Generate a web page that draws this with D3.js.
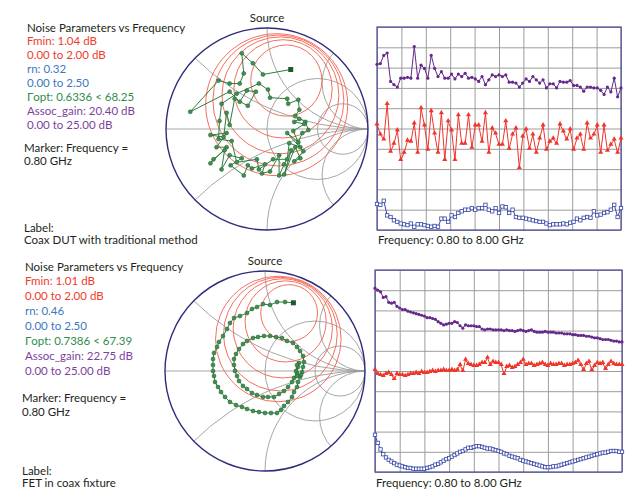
<!DOCTYPE html>
<html>
<head>
<meta charset="utf-8">
<script src="https://cdn.jsdelivr.net/npm/d3@7"></script>
<style>
  body { margin: 0; background: #fff; }
  svg { display: block; font-family: 'Lato', 'Open Sans', sans-serif; }
</style>
</head>
<body>
<div id="chart"></div>
<script>
// ---- sweep & grid settings ----
const freqStart = 0.8, freqStop = 8.0;
const fminRange = [0, 2], rnRange = [0, 2.5], gainRange = [0, 25];
const noiseSteps = [0.5, 1.0, 1.5, 2.0, 2.5];   // dB above Fmin
const rCircles = [1, 3];
const xArcs = [0.41, 1, 2.2];

// ---- panel 1 : Coax DUT with traditional method ----
const gOptTop = [0.6336, 68.25];
const fminTop = [1.04,0.94,0.89,1.24,0.77,0.85,0.98,0.69,0.76,0.88,0.87,1.05,0.76,1.20,1.03,0.79,1.17,0.95,0.76,1.15,
  0.69,1.07,0.98,0.69,1.13,0.85,0.85,1.13,0.81,1.03,1.03,0.87,1.15,0.76,1.00,0.95,0.84,
  0.84,1.07,0.80,0.94,1.00,0.61,0.92,0.99,0.80,0.94,0.76,0.90,1.03,0.79,0.87,0.90,0.85,1.04,0.97,0.89,
  0.99,0.79,0.90,0.94,0.79,1.05,0.90,0.94,1.03,0.76,1.03,0.78,0.84,0.89,0.76,0.90];
const rnTop = [0.32,0.31,0.36,0.18,0.16,0.12,0.10,0.08,0.07,0.06,0.08,0.04,0.07,0.07,0.06,0.05,0.04,0.05,0.04,0.14,
  0.14,0.10,0.18,0.16,0.21,0.23,0.25,0.25,0.27,0.25,0.27,0.27,0.31,0.25,0.23,0.27,
  0.21,0.29,0.28,0.21,0.25,0.16,0.15,0.15,0.14,0.13,0.12,0.11,0.10,0.10,0.08,0.06,0.07,0.07,0.07,0.08,
  0.07,0.09,0.10,0.14,0.12,0.15,0.16,0.15,0.23,0.18,0.19,0.21,0.22,0.25,0.31,0.16,0.27];
const gainTop = [20.40,20.5,21.5,21.8,18.3,17.9,17.6,18.7,18.7,18.8,18.7,22.6,18.7,20.3,19.9,18.7,21.5,19.9,
  18.9,19.5,18.7,18.7,19.2,18.6,19.2,18.9,19.3,18.7,18.8,18.6,18.3,18.9,17.9,18.5,19.1,18.9,
  19.1,18.9,19.1,18.2,18.2,18.1,17.6,18.1,18.6,18.3,18.9,18.5,18.1,18.5,17.5,18.0,18.0,17.5,18.3,
  18.2,18.2,18.4,17.8,17.8,17.6,17.1,17.6,17.6,17.5,17.5,17.2,16.7,17.6,17.0,18.7,16.4,17.5];
const gammaTop = [[0.235,0.589],[-0.04,0.54],[-0.14,0.65],[-0.25,0.75],[-0.23,0.55],[-0.27,0.45],[-0.37,0.45],
  [-0.48,0.48],[-0.76,0.17],[-0.37,0.37],[-0.27,0.27],[-0.20,0.38],[-0.11,0.37],[-0.19,0.23],[-0.32,0.30],
  [-0.37,0.04],[-0.40,0.16],[-0.43,-0.08],[-0.56,-0.06],[-0.40,-0.04],[-0.50,-0.18],[-0.40,-0.18],[-0.56,-0.34],
  [-0.53,-0.30],[-0.42,-0.21],[-0.45,-0.40],[-0.37,-0.26],[-0.25,-0.29],[-0.36,-0.36],[-0.23,-0.46],[-0.19,-0.36],
  [-0.15,-0.39],[-0.02,-0.35],[-0.05,-0.44],[0.03,-0.42],[0.12,-0.26],[0.12,-0.46],[0.17,-0.35],[0.24,-0.21],
  [0.17,-0.45],[0.28,-0.18],[0.33,-0.29],[0.27,-0.32],[0.36,-0.22],[0.20,-0.04],[0.31,-0.13],[0.35,-0.04],
  [0.41,-0.01],[0.38,0.07],[0.28,0.13],[0.32,0.19],[0.31,0.29],[0.21,0.25],[0.20,0.30],[0.03,0.31],[0.01,0.39],
  [-0.08,0.45],[-0.30,0.35],[-0.45,0.25],[-0.47,0.08],[-0.48,-0.10],[-0.35,-0.12],[-0.30,-0.33],[-0.10,-0.30],
  [-0.08,-0.40],[0.06,-0.30],[0.20,-0.30],[0.22,-0.14],[0.33,-0.18],[0.26,-0.02],[0.37,0.05],[0.27,0.07],[0.32,0.10]];

// ---- panel 2 : FET in coax fixture ----
const gOptBot = [0.7386, 67.39];
const fminBot = [1.01,0.97,0.96,0.95,0.97,0.98,0.96,0.92,0.97,0.96,0.96,0.95,0.96,0.97,0.97,0.98,0.97,0.99,0.98,0.98,
  0.99,1.00,0.99,1.00,1.00,1.01,1.00,1.00,1.01,1.00,1.01,1.06,1.00,1.11,1.07,1.06,1.05,1.05,1.06,1.08,
  1.08,1.13,1.06,1.09,1.08,1.08,1.06,0.97,1.04,1.05,1.03,1.04,1.06,1.08,1.11,1.06,1.07,1.07,1.05,1.06,
  1.07,1.08,1.06,1.05,1.07,1.06,1.06,1.07,1.07,1.05,1.06,1.06,1.07,1.08,1.10,1.06,1.01,1.07,1.09,1.01,
  1.05,1.08,1.07,1.08,1.02,1.06,1.09,1.07,1.06,1.06,1.06];
const rnBot = [0.46,0.36,0.28,0.22,0.18,0.15,0.13,0.11,0.09,0.08,0.07,0.06,0.05,0.05,0.04,0.04,0.04,0.04,0.04,0.05,
  0.06,0.07,0.09,0.10,0.12,0.14,0.16,0.17,0.19,0.21,0.23,0.25,0.26,0.28,0.30,0.30,0.31,0.32,0.32,0.31,
  0.30,0.29,0.29,0.28,0.27,0.26,0.25,0.23,0.22,0.20,0.19,0.18,0.17,0.15,0.14,0.13,0.12,0.11,0.10,0.09,
  0.08,0.07,0.06,0.06,0.06,0.07,0.07,0.08,0.09,0.10,0.11,0.12,0.13,0.14,0.15,0.16,0.17,0.18,0.19,0.20,
  0.21,0.22,0.23,0.24,0.24,0.25,0.26,0.26,0.26,0.25,0.25];
const gainBot = [22.75,22.5,22.3,21.6,21.7,21.0,20.9,21.0,20.5,20.3,20.1,20.1,19.9,19.8,19.7,19.6,19.5,19.4,19.3,19.1,
  19.1,19.0,18.9,18.6,18.4,18.2,18.3,18.4,18.4,18.6,18.5,18.1,17.8,18.2,18.1,18.1,18.1,18.0,18.0,17.7,
  17.6,17.7,17.7,17.6,17.6,17.6,17.6,17.5,17.6,17.5,17.5,17.4,17.5,17.6,17.5,17.4,17.5,17.6,17.4,17.3,
  17.3,17.3,17.4,17.3,17.3,17.3,17.2,17.2,17.2,17.1,17.1,17.1,17.0,17.0,16.9,16.9,16.9,16.8,16.8,16.7,
  16.6,16.6,16.5,16.4,16.4,16.4,16.3,16.2,16.2,16.1,16.1];
const gammaBot = [[0.284,0.682],[0.20,0.69],[0.12,0.69],[0.05,0.66],[-0.02,0.67],[-0.08,0.64],[-0.13,0.62],
  [-0.18,0.58],[-0.25,0.55],[-0.31,0.53],[-0.35,0.48],[-0.38,0.42],[-0.42,0.35],[-0.46,0.29],[-0.48,0.24],
  [-0.51,0.18],[-0.52,0.12],[-0.52,0.06],[-0.52,0.00],[-0.51,-0.05],[-0.50,-0.11],[-0.47,-0.16],[-0.44,-0.21],
  [-0.40,-0.26],[-0.35,-0.31],[-0.29,-0.34],[-0.23,-0.36],[-0.18,-0.38],[-0.12,-0.40],[-0.06,-0.41],[0.00,-0.42],
  [0.06,-0.42],[0.12,-0.42],[0.16,-0.39],[0.19,-0.35],[0.23,-0.31],[0.27,-0.26],[0.29,-0.21],[0.32,-0.16],
  [0.33,-0.11],[0.35,-0.06],[0.37,-0.01],[0.38,0.04],[0.39,0.09],[0.38,0.15],[0.35,0.20],[0.32,0.24],[0.28,0.28],
  [0.22,0.30],[0.17,0.33],[0.11,0.34],[0.05,0.35],[-0.01,0.35],[-0.07,0.34],[-0.12,0.33],[-0.18,0.30],[-0.22,0.27],
  [-0.26,0.22],[-0.29,0.17],[-0.31,0.12],[-0.31,0.06],[-0.30,0.00],[-0.28,-0.05],[-0.26,-0.10],[-0.22,-0.15],
  [-0.18,-0.18],[-0.13,-0.22],[-0.08,-0.24],[-0.02,-0.26],[0.03,-0.26],[0.09,-0.26],[0.14,-0.23],[0.19,-0.20],
  [0.23,-0.16],[0.27,-0.11],[0.29,-0.07],[0.32,-0.02],[0.33,0.04],[0.34,0.08],[0.32,0.06],[0.31,0.00],[0.32,-0.05],[0.36,-0.04]];

// ---- colours ----
const C = {
  text: '#231f20', fmin: '#ef3b2c', rn: '#3d78c2', gopt: '#2e8b4a', gain: '#7d3f9e',
  navy: '#2c2c7c', grid: '#9c9c9c', noise: '#f2705f', trace: '#2f7d3c',
  fLine: '#f0352a', rLine: '#3545a5', gLine: '#65288c'
};

const svg = d3.select('#chart').append('svg').attr('width', 640).attr('height', 502);

function panel(p) {
  const g = svg.append('g');

  // ---- legend text ----
  const legend = [
    ['Noise Parameters vs Frequency', C.text],
    [`Fmin: ${p.fmin[0].toFixed(2)} dB`, C.fmin],
    [`${fminRange[0].toFixed(2)} to ${fminRange[1].toFixed(2)} dB`, C.fmin],
    [`rn: ${p.rn[0].toFixed(2)}`, C.rn],
    [`${rnRange[0].toFixed(2)} to ${rnRange[1].toFixed(2)}`, C.rn],
    [`\u0393opt: ${p.gOpt[0].toFixed(4)} < ${p.gOpt[1].toFixed(2)}`, C.gopt],
    [`Assoc_gain: ${p.gain[0].toFixed(2)} dB`, C.gain],
    [`${gainRange[0].toFixed(2)} to ${gainRange[1].toFixed(2)} dB`, C.gain]
  ];
  g.selectAll('.leg').data(legend).enter().append('text')
    .attr('x', p.tx).attr('y', (d, i) => p.ty + i * p.step)
    .style('font-size', '11.5px').style('fill', d => d[1]).text(d => d[0]);

  const extra = [
    ['Marker: Frequency =', p.tx - 3, p.my],
    [`${freqStart.toFixed(2)} GHz`, p.tx - 3, p.my + p.step],
    ['Label:', p.tx - 3, p.ly],
    [p.label, p.tx - 3, p.ly + 11.5]
  ];
  g.selectAll('.ext').data(extra).enter().append('text')
    .attr('x', d => d[1]).attr('y', d => d[2])
    .style('font-size', '11.5px').style('fill', C.text).text(d => d[0]);

  // ---- Smith chart ----
  const sx = d3.scaleLinear().domain([-1, 1]).range([p.cx - p.R, p.cx + p.R]);
  const sy = d3.scaleLinear().domain([-1, 1]).range([p.cy + p.R, p.cy - p.R]);
  const k = p.R; // pixels per unit reflection
  const clipId = 'clip' + p.id;
  g.append('clipPath').attr('id', clipId).append('circle')
    .attr('cx', sx(0)).attr('cy', sy(0)).attr('r', k);

  const sm = g.append('g').attr('clip-path', `url(#${clipId})`);
  sm.append('line').attr('x1', sx(-1)).attr('x2', sx(1)).attr('y1', sy(0)).attr('y2', sy(0))
    .attr('stroke', C.grid).attr('stroke-width', 0.9);
  sm.selectAll('.rc').data(rCircles).enter().append('circle')
    .attr('cx', r => sx(r / (1 + r))).attr('cy', sy(0)).attr('r', r => k / (1 + r))
    .attr('fill', 'none').attr('stroke', C.grid).attr('stroke-width', 0.9);
  const arcs = xArcs.flatMap(x => [x, -x]);
  sm.selectAll('.xa').data(arcs).enter().append('circle')
    .attr('cx', sx(1)).attr('cy', x => sy(1 / x)).attr('r', x => k / Math.abs(x))
    .attr('fill', 'none').attr('stroke', C.grid).attr('stroke-width', 0.9);

  // noise circles
  const gr = p.gOpt[0] * Math.cos(p.gOpt[1] * Math.PI / 180);
  const gi = p.gOpt[0] * Math.sin(p.gOpt[1] * Math.PI / 180);
  const Fmin = Math.pow(10, p.fmin[0] / 10);
  const circles = noiseSteps.map(dF => {
    const F = Math.pow(10, (p.fmin[0] + dF) / 10);
    const N = (F - Fmin) / (4 * p.rn[0]) * ((1 + gr) * (1 + gr) + gi * gi);
    const g2 = gr * gr + gi * gi;
    return { x: gr / (N + 1), y: gi / (N + 1), r: Math.sqrt(N * (N + 1 - g2)) / (N + 1) };
  });
  sm.selectAll('.nc').data(circles).enter().append('circle')
    .attr('cx', d => sx(d.x)).attr('cy', d => sy(d.y)).attr('r', d => d.r * k)
    .attr('fill', 'none').attr('stroke', C.noise).attr('stroke-width', 1);

  g.append('circle').attr('cx', sx(0)).attr('cy', sy(0)).attr('r', k)
    .attr('fill', 'none').attr('stroke', C.navy).attr('stroke-width', 1.4);

  g.append('text').attr('x', sx(0)).attr('y', p.sourceY).attr('text-anchor', 'middle')
    .style('font-size', '11.5px').style('fill', C.text).text('Source');

  const line = d3.line().x(d => sx(d[0])).y(d => sy(d[1]));
  g.append('path').datum(p.gamma).attr('d', line)
    .attr('fill', 'none').attr('stroke', C.trace).attr('stroke-width', 1);
  g.selectAll('.gp').data(p.gamma.slice(1)).enter().append('circle')
    .attr('cx', d => sx(d[0])).attr('cy', d => sy(d[1])).attr('r', 2)
    .attr('fill', '#3f9150').attr('stroke', '#1d5a2a').attr('stroke-width', 0.5);
  g.append('rect').attr('x', sx(p.gamma[0][0]) - 2.5).attr('y', sy(p.gamma[0][1]) - 2.5)
    .attr('width', 5).attr('height', 5).attr('fill', '#1d5a2a');

  // ---- rectangular plot ----
  const n = p.fmin.length;
  const freq = i => freqStart + i * (freqStop - freqStart) / (n - 1);
  const x = d3.scaleLinear().domain([freqStart, freqStop]).range([p.px0, p.px1]);
  const yF = d3.scaleLinear().domain(fminRange).range([p.py1, p.py0]);
  const yR = d3.scaleLinear().domain(rnRange).range([p.py1, p.py0]);
  const yG = d3.scaleLinear().domain(gainRange).range([p.py1, p.py0]);

  const pw = p.px1 - p.px0, ph = p.py1 - p.py0;
  g.append('g').attr('transform', `translate(0,${p.py1})`)
    .call(d3.axisBottom(x).tickValues(d3.range(11).map(j => freqStart + j * (freqStop - freqStart) / 10))
      .tickSize(-ph).tickFormat(''))
    .call(a => a.select('.domain').remove())
    .call(a => a.selectAll('line').attr('stroke', C.grid).attr('stroke-width', 1));
  g.append('g').attr('transform', `translate(${p.px0},0)`)
    .call(d3.axisLeft(yG).tickValues(d3.range(11).map(j => j * 2.5)).tickSize(-pw).tickFormat(''))
    .call(a => a.select('.domain').remove())
    .call(a => a.selectAll('line').attr('stroke', C.grid).attr('stroke-width', 1));
  g.append('rect').attr('x', p.px0).attr('y', p.py0).attr('width', pw).attr('height', ph)
    .attr('fill', 'none').attr('stroke', '#4a4a98').attr('stroke-width', 1.2);

  const series = [
    { v: p.gain, y: yG, col: C.gLine, mk: 'dot' },
    { v: p.fmin, y: yF, col: C.fLine, mk: 'tri' },
    { v: p.rn, y: yR, col: C.rLine, mk: 'sq' }
  ];
  series.forEach(s => {
    const pts = s.v.map((v, i) => [x(freq(i)), s.y(v)]);
    g.append('path').attr('d', d3.line()(pts)).attr('fill', 'none')
      .attr('stroke', s.col).attr('stroke-width', 1);
    const m = g.selectAll(null).data(pts).enter();
    if (s.mk === 'dot') {
      m.append('circle').attr('cx', d => d[0]).attr('cy', d => d[1]).attr('r', 1.6).attr('fill', s.col);
    } else if (s.mk === 'tri') {
      m.append('path').attr('d', d3.symbol(d3.symbolTriangle, 11)())
        .attr('transform', d => `translate(${d[0]},${d[1] - 0.5})`).attr('fill', s.col);
    } else {
      m.append('rect').attr('x', d => d[0] - 1.7).attr('y', d => d[1] - 1.7)
        .attr('width', 3.4).attr('height', 3.4).attr('fill', '#fff')
        .attr('stroke', s.col).attr('stroke-width', 0.8);
    }
  });

  g.append('text').attr('x', p.px0 + 1).attr('y', p.fy)
    .style('font-size', '11.5px').style('fill', C.text)
    .text(`Frequency: ${freqStart.toFixed(2)} to ${freqStop.toFixed(2)} GHz`);
}

panel({ id: 1, fmin: fminTop, rn: rnTop, gain: gainTop, gamma: gammaTop, gOpt: gOptTop,
  label: 'Coax DUT with traditional method',
  tx: 27, ty: 31.5, step: 13.9, my: 151.5, ly: 232,
  cx: 267, cy: 129, R: 101, sourceY: 22,
  px0: 377, px1: 621, py0: 27, py1: 230, fy: 243.5 });

panel({ id: 2, fmin: fminBot, rn: rnBot, gain: gainBot, gamma: gammaBot, gOpt: gOptBot,
  label: 'FET in coax fixture',
  tx: 25, ty: 270.5, step: 14.9, my: 401.5, ly: 475,
  cx: 265, cy: 371, R: 100, sourceY: 265,
  px0: 375, px1: 622, py0: 270, py1: 472, fy: 487 });
</script>
</body>
</html>
